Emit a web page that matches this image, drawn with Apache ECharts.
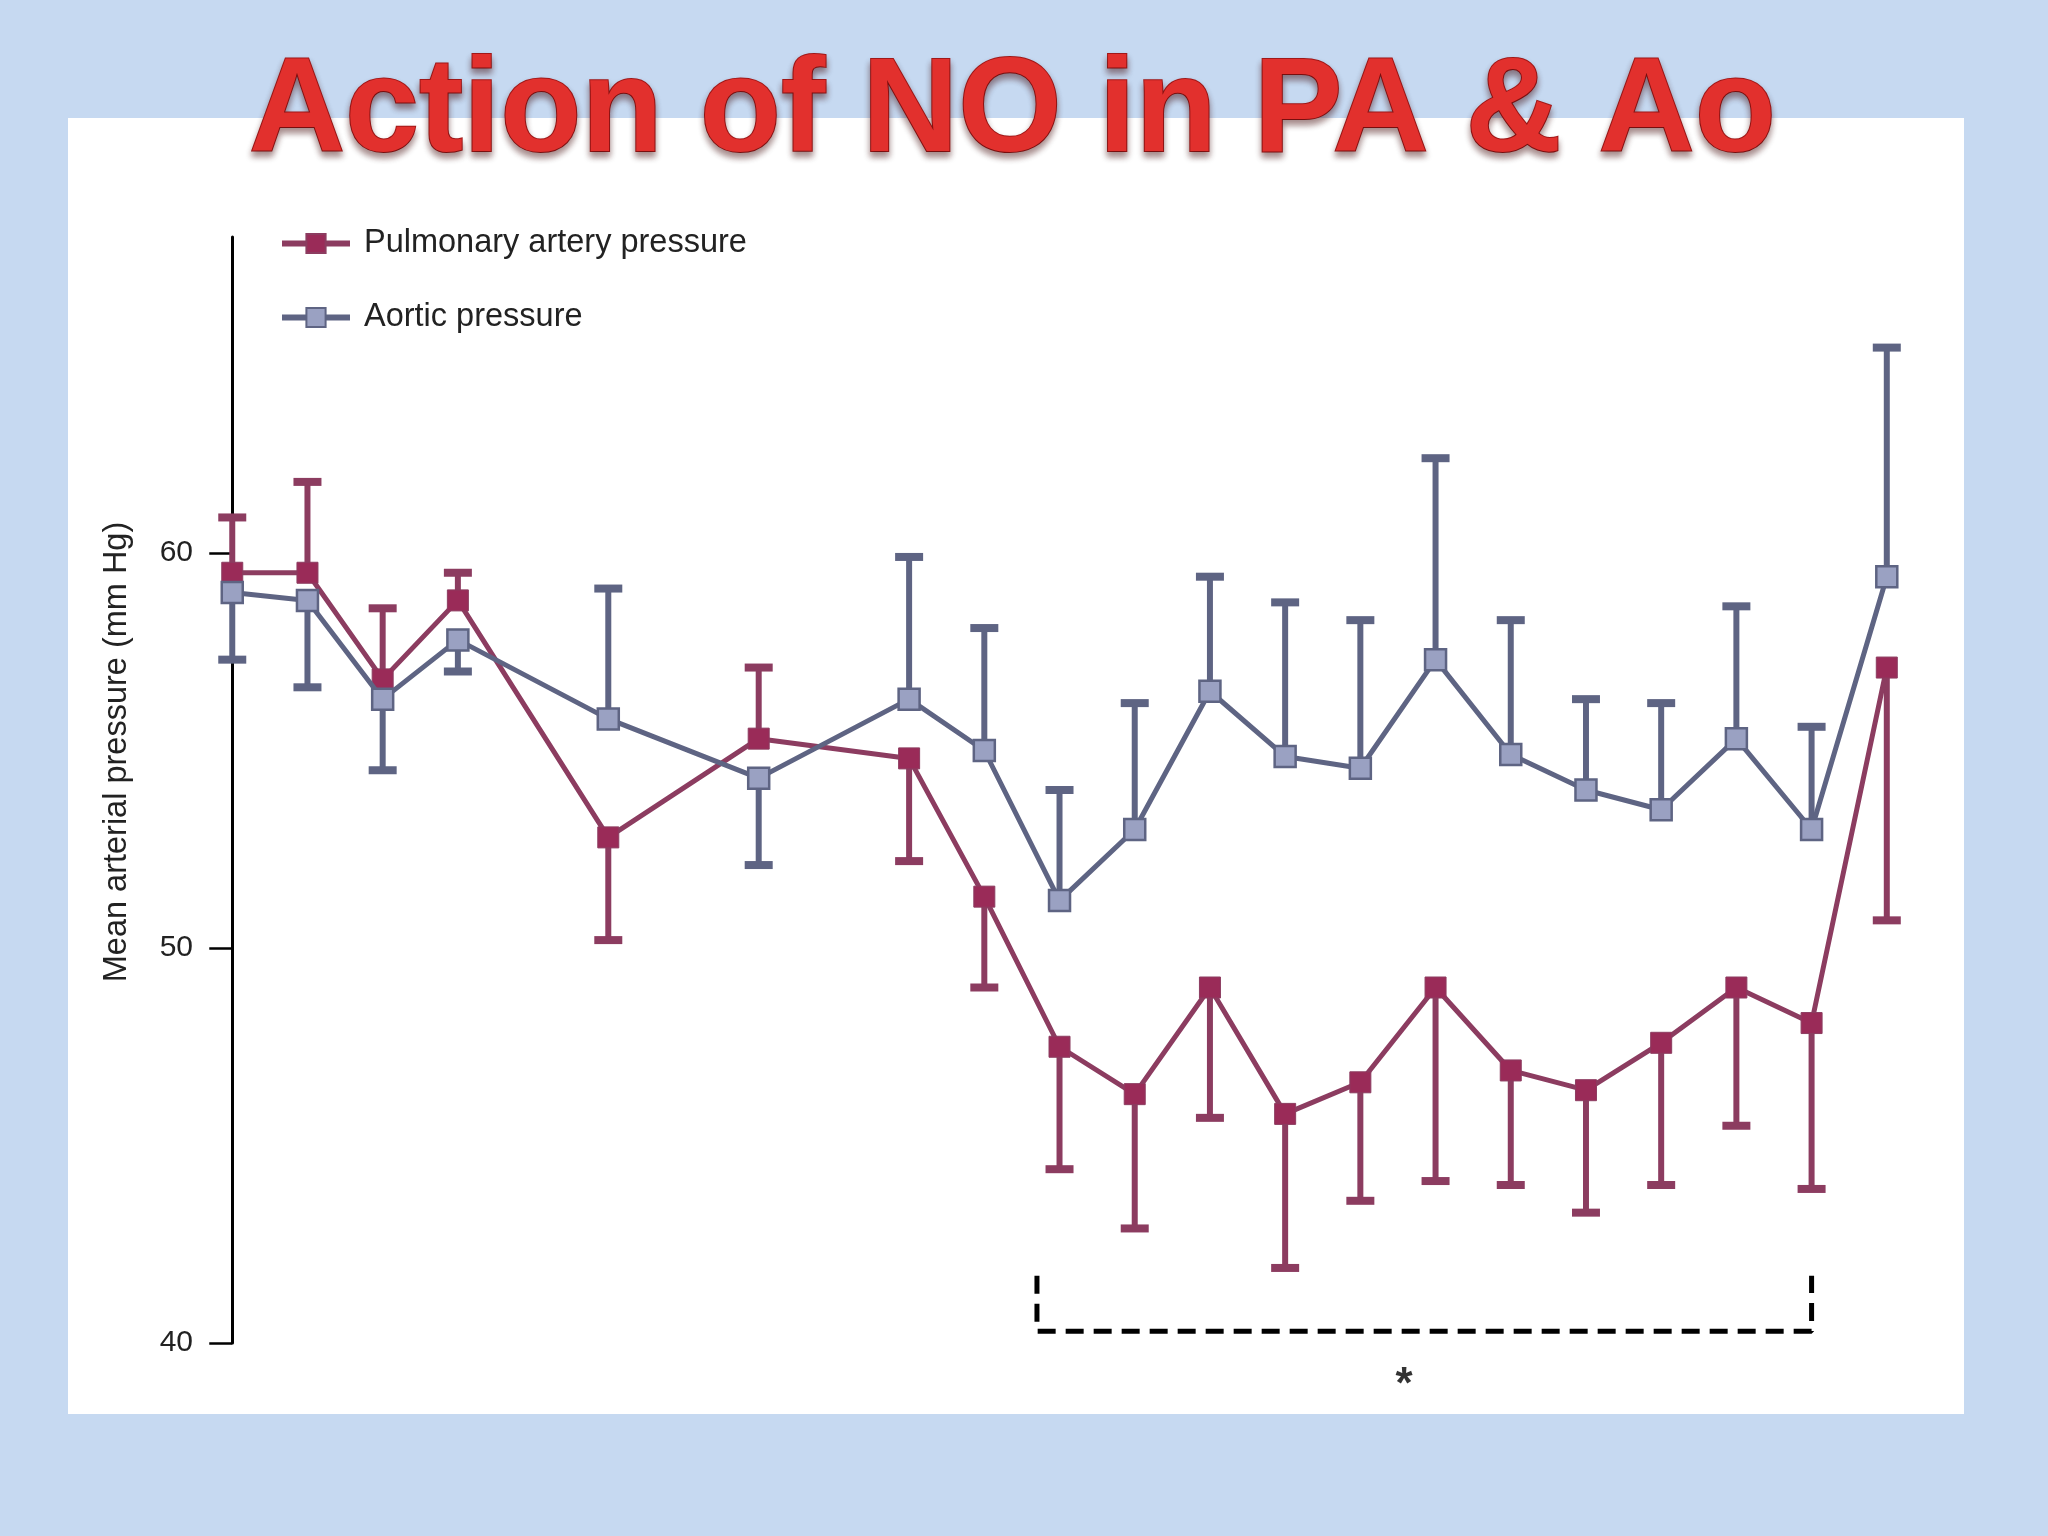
<!DOCTYPE html>
<html>
<head>
<meta charset="utf-8">
<title>Action of NO in PA &amp; Ao</title>
<script src="https://cdn.jsdelivr.net/npm/echarts@6/dist/echarts.min.js"></script>
<style>
  html, body { margin: 0; padding: 0; background: #c6d9f1; }
  #chart { width: 2048px; height: 1536px; }
</style>
</head>
<body>
<div id="chart"></div>
<script>
// ---- data ----
const titleText = 'Action of NO in PA & Ao';
const yAxisName = 'Mean arterial pressure (mm Hg)';
const seriesNames = ['Pulmonary artery pressure', 'Aortic pressure'];
const yTicks = [40, 50, 60];
const timePoints = [0, 1, 2, 3, 5, 7, 9, 10, 11, 12, 13, 14, 15, 16, 17, 18, 19, 20, 21, 22];
const paMean = [59.5, 59.5, 56.8, 58.8, 52.8, 55.3, 54.8, 51.3, 47.5, 46.3, 49.0, 45.8, 46.6, 49.0, 46.9, 46.4, 47.6, 49.0, 48.1, 57.1];
const paErrEnd = [60.9, 61.8, 58.6, 59.5, 50.2, 57.1, 52.2, 49.0, 44.4, 42.9, 45.7, 41.9, 43.6, 44.1, 44.0, 43.3, 44.0, 45.5, 43.9, 50.7];
const aoMean = [59.0, 58.8, 56.3, 57.8, 55.8, 54.3, 56.3, 55.0, 51.2, 53.0, 56.5, 54.85, 54.55, 57.3, 54.9, 54.0, 53.5, 55.3, 53.0, 59.4];
const aoErrEnd = [57.3, 56.6, 54.5, 57.0, 59.1, 52.1, 59.9, 58.1, 54.0, 56.2, 59.4, 58.75, 58.3, 62.4, 58.3, 56.3, 56.2, 58.65, 55.6, 65.2];
const bracketX = [10.7, 21.0];
const bracketY = [41.7, 40.3];
const starPoint = [15.58, 39.17];
const starText = '*';

// ---- styles ----
const paLine = '#8c3c60';
const paFill = '#9a2b58';
const aoLine = '#5e6483';
const aoFill = '#9aa1c2';

const paPairs = timePoints.map((t, i) => [t, paMean[i]]);
const aoPairs = timePoints.map((t, i) => [t, aoMean[i]]);
const paErr = timePoints.map((t, i) => [t, paMean[i], paErrEnd[i]]);
const aoErr = timePoints.map((t, i) => [t, aoMean[i], aoErrEnd[i]]);
const bracketData = [
  [bracketX[0], bracketY[0]], [bracketX[0], bracketY[1]],
  [bracketX[1], bracketY[1]], [bracketX[1], bracketY[0]]
];

function errRenderer(color) {
  return function (params, api) {
    const x = api.value(0), v = api.value(1), e = api.value(2);
    const p0 = api.coord([x, v]);
    const p1 = api.coord([x, e]);
    const hw = 14;
    return {
      type: 'group',
      children: [
        { type: 'line', shape: { x1: p0[0], y1: p0[1], x2: p1[0], y2: p1[1] },
          style: { stroke: color, lineWidth: 6 } },
        { type: 'line', shape: { x1: p1[0] - hw, y1: p1[1], x2: p1[0] + hw, y2: p1[1] },
          style: { stroke: color, lineWidth: 8 } }
      ]
    };
  };
}

const chart = echarts.init(document.getElementById('chart'), null, { renderer: 'canvas' });
chart.setOption({
  backgroundColor: '#c6d9f1',
  animation: false,
  graphic: [{
    type: 'rect', z: -100, left: 68, top: 118,
    shape: { width: 1896, height: 1296 },
    style: { fill: '#ffffff' }
  }],
  title: {
    text: titleText,
    left: 244,
    top: 43,
    z: 10,
    textStyle: {
      fontFamily: 'Liberation Sans',
      fontWeight: 'bold',
      fontSize: 133,
      color: '#e2302d',
      textBorderColor: '#a31919',
      textBorderWidth: 2,
      textShadowColor: 'rgba(60,0,0,0.45)',
      textShadowBlur: 6,
      textShadowOffsetY: 5
    }
  },
  legend: {
    data: seriesNames,
    orient: 'vertical',
    left: 274,
    top: 222,
    itemWidth: 68,
    itemHeight: 24,
    itemGap: 41,
    lineStyle: { width: 6 },
    textStyle: {
      fontFamily: 'Liberation Sans',
      fontSize: 32.5,
      color: '#222',
      lineHeight: 33,
      padding: [0, 0, 0, 9]
    }
  },
  grid: { left: 230, right: 86, top: 237, bottom: 193, containLabel: false },
  xAxis: {
    type: 'value', min: -0.03, max: 23,
    show: false
  },
  yAxis: {
    type: 'value', min: 40, max: 68, interval: 10,
    name: yAxisName,
    nameLocation: 'middle',
    nameGap: 96,
    nameTextStyle: {
      fontFamily: 'Liberation Sans', fontSize: 32.5, color: '#222',
      padding: [0, 0, 0, 76]
    },
    axisLine: { show: true, lineStyle: { color: '#000', width: 3 } },
    axisTick: { show: true, length: 23, customValues: yTicks, lineStyle: { color: '#000', width: 2.5 } },
    axisLabel: {
      customValues: yTicks, margin: 37,
      fontFamily: 'Liberation Sans', fontSize: 30, color: '#222'
    },
    splitLine: { show: false }
  },
  series: [
    {
      name: seriesNames[0] + ' error', type: 'custom', z: 1,
      renderItem: errRenderer(paLine), data: paErr,
      encode: { x: 0, y: 1 }, silent: true
    },
    {
      name: seriesNames[1] + ' error', type: 'custom', z: 1,
      renderItem: errRenderer(aoLine), data: aoErr,
      encode: { x: 0, y: 1 }, silent: true
    },
    {
      name: seriesNames[0], type: 'line', z: 3,
      data: paPairs,
      symbol: 'rect', symbolSize: 21,
      lineStyle: { color: paLine, width: 5 },
      itemStyle: { color: paFill, borderColor: paLine, borderWidth: 1 }
    },
    {
      name: seriesNames[1], type: 'line', z: 4,
      data: aoPairs,
      symbol: 'rect', symbolSize: 21,
      lineStyle: { color: aoLine, width: 5 },
      itemStyle: { color: aoFill, borderColor: aoLine, borderWidth: 2.5 }
    },
    {
      name: 'bracket', type: 'line', z: 2,
      data: bracketData, symbol: 'none', clip: false,
      lineStyle: { color: '#000', width: 5, type: [18, 10] }
    },
    {
      name: 'significance', type: 'scatter', z: 2, clip: false,
      data: [starPoint], symbolSize: 0,
      label: {
        show: true, position: 'inside', formatter: starText,
        fontFamily: 'Liberation Sans', fontWeight: 'bold', fontSize: 44,
        color: '#000', offset: [0, 10]
      }
    }
  ]
});
</script>
</body>
</html>
